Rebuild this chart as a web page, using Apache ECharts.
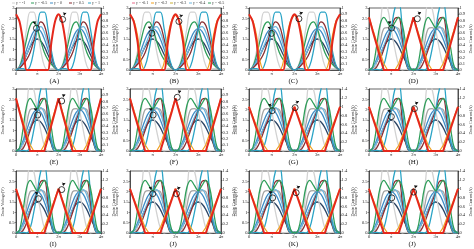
<!DOCTYPE html>
<html><head><meta charset="utf-8">
<script src="https://cdn.jsdelivr.net/npm/echarts@6/dist/echarts.min.js"></script>
<style>html,body{margin:0;padding:0;background:#fff}#c{width:474px;height:249px}</style>
</head><body><div id="c"></div>
<script>
// ---------- data ----------
const xTickLabels = ['0', 'π', '2π', '3π', '4π'];
const thetaDeg = [0, 30, 60, 90, 120, 150, 180, 210, 240, 270, 300, 330, 360];
const panelNames = ['(A)', '(B)', '(C)', '(D)', '(E)', '(F)', '(G)', '(H)', '(I)', '(J)', '(K)', '(J)'];
const legendA = ['γ = -1', 'γ = -0.5', 'γ = 0', 'γ = 0.5', 'γ = 1'];
const legendB = ['γ = -0.1', 'γ = -0.2', 'γ = -0.3', 'γ = -0.4', 'γ = -0.5'];

// continuous class-J voltage family (V), one period
const vJ_m1 = [0, 0.20, 0.93, 2.0, 2.80, 2.80, 2.0, 0.93, 0.20, 0, 0.07, 0.07, 0];
const vJ_m05 = [0, 0.17, 0.72, 1.5, 2.15, 2.33, 2.0, 1.40, 0.85, 0.5, 0.28, 0.10, 0];
const vJ_0 = [0, 0.13, 0.5, 1.0, 1.5, 1.87, 2.0, 1.87, 1.5, 1.0, 0.5, 0.13, 0];
const vJ_025 = [0, 0.12, 0.39, 0.75, 1.18, 1.63, 2.0, 2.10, 1.83, 1.25, 0.61, 0.15, 0];
const vJ_05 = [0, 0.10, 0.28, 0.5, 0.85, 1.40, 2.0, 2.33, 2.15, 1.5, 0.72, 0.17, 0];
const vJ_1 = [0, 0.07, 0.07, 0, 0.20, 0.93, 2.0, 2.80, 2.80, 2.0, 0.93, 0.20, 0];
const vJ_navy = [0, 0.1, 0.38, 0.75, 1.13, 1.4, 1.5, 1.4, 1.13, 0.75, 0.38, 0.1, 0];
// continuous class-F voltage family (V), one period
const vF_m1 = [0.04, 0, 0.43, 2.0, 3.3, 3.0, 1.96, 1.0, 0.24, 0, 0.03, 0, 0.04];
const vF_dh = [0, 0.15, 1.1, 2.2, 2.55, 2.3, 2.05, 2.3, 2.55, 2.2, 1.1, 0.15, 0];
const vF_0 = [0.04, 0, 0.35, 1.3, 2.0, 2.05, 1.96, 2.05, 2.0, 1.3, 0.35, 0, 0.04];
const vF_05 = [0.04, 0, 0.13, 0.5, 1.0, 1.5, 1.96, 2.5, 2.54, 1.5, 0.33, 0, 0.04];
const vF_1 = [0.04, 0, 0.03, 0, 0.24, 1.0, 1.96, 3.0, 3.3, 2.0, 0.43, 0, 0.04];
// drain currents (A), one period
const iB = [0.90, 0.78, 0.45, 0, 0, 0, 0, 0, 0, 0, 0.45, 0.78, 0.90];
const iB2 = [0.88, 0.80, 0.55, 0.12, 0, 0, 0, 0, 0, 0.12, 0.55, 0.80, 0.88];
const iF = [0.85, 0.63, 0.42, 0.2, 0, 0, 0, 0, 0, 0.2, 0.42, 0.63, 0.85];
const iF2 = [0.85, 0.66, 0.47, 0.28, 0.1, 0, 0, 0, 0.1, 0.28, 0.47, 0.66, 0.85];
const iG = [1.0, 0.75, 0.5, 0.25, 0, 0, 0, 0, 0, 0.25, 0.5, 0.75, 1.0];
const iG2 = [1.0, 0.78, 0.56, 0.34, 0.12, 0, 0, 0, 0.12, 0.34, 0.56, 0.78, 1.0];
// annotation circles [x(deg), y(V)] : left-pointing, right-pointing
const markLeft = [[173, 2.02], [173, 1.78], [179, 1.77], [183, 2.03], [183, 1.74], [183, 1.74], [183, 1.95], [181, 1.66], [190, 1.66], [180, 1.9], [187, 1.7], [184, 1.7]];
const markRight = [[395, 2.45], [387, 2.35], [395, 2.48], [391, 2.48], [387, 2.42], [374, 2.6], [365, 2.1], [368, 2.05], [387, 2.1], [368, 1.9], [373, 1.95], [361, 1.98]];

// ---------- layout ----------
const colLeft = [10, 130, 249, 369];
const rowTop = [8, 89, 171];
const gw = 91, gh = 62;

const C = {grey: '#d2d2d2', green: '#2f9e5a', blue: '#3f8dc6', dred: '#8a2f33', teal: '#2aa4c6', navy: '#2c4463', lblue: '#6fb8e0', red: '#e5281c', orange: '#f2a11f', mgrey: '#a5a5a5'};

function two(arr) { return arr.concat(arr.slice(1)).map((v, i) => [i * 30, v]); }

const volJ = [[vJ_navy, C.navy], [vJ_m1, C.grey], [vJ_m05, C.green], [vJ_0, C.blue], [vJ_025, C.lblue], [vJ_05, C.dred], [vJ_1, C.teal]];
const volF = [[vF_0, C.mgrey], [vJ_navy, C.navy], [vF_m1, C.grey], [vJ_0, C.blue], [vJ_025, C.lblue], [vF_05, C.dred], [vF_1, C.teal], [vF_dh, C.green]];

const grids = [], xAxes = [], yAxes = [], series = [], graphics = [];
for (let p = 0; p < 12; p++) {
  const r = Math.floor(p / 4), c = p % 4;
  const left = colLeft[c], top = rowTop[r];
  grids.push({left: left, top: top, width: gw, height: gh, show: true, borderColor: '#222', borderWidth: 0.7, backgroundColor: 'transparent'});
  const lab = {fontSize: 4.5, color: '#222', margin: 1.5, fontFamily: 'Liberation Serif'};
  xAxes.push({gridIndex: p, type: 'value', min: 0, max: 720, interval: 180,
    axisLine: {lineStyle: {color: '#222', width: 0.7}}, axisTick: {length: 1.5, lineStyle: {color: '#222', width: 0.5}},
    splitLine: {show: false}, axisLabel: Object.assign({}, lab, {formatter: v => xTickLabels[v / 180]})});
  const big = p >= 6;
  yAxes.push({gridIndex: p, type: 'value', position: 'left', min: 0, max: 3, interval: 0.5,
    name: 'Drain Voltage(V)', nameLocation: 'middle', nameGap: 7, nameRotate: 90,
    nameTextStyle: {fontSize: 4.2, color: '#333', fontFamily: 'Liberation Serif'},
    axisLine: {show: true, lineStyle: {color: '#222', width: 0.7}}, axisTick: {length: 1.5, lineStyle: {width: 0.5}},
    splitLine: {show: false}, axisLabel: lab});
  yAxes.push({gridIndex: p, type: 'value', position: 'right', min: 0, max: big ? 1.4 : 1, interval: big ? 0.2 : 0.1,
    name: 'Drain Current(A)', nameLocation: 'middle', nameGap: 9, nameRotate: 90,
    nameTextStyle: {fontSize: 4.2, color: '#333', fontFamily: 'Liberation Serif'},
    axisLine: {show: true, lineStyle: {color: '#222', width: 0.7}}, axisTick: {length: 1.5, lineStyle: {width: 0.5}},
    splitLine: {show: false}, axisLabel: Object.assign({}, lab, {formatter: v => (Math.round(v * 10) / 10).toString()})});
  const fam = p < 3 ? volJ : volF;
  fam.forEach(([arr, col]) => series.push({type: 'line', xAxisIndex: p, yAxisIndex: 2 * p, data: two(arr), smooth: 0.4,
    showSymbol: false, lineStyle: {color: col, width: 1.3}, silent: true, animation: false}));
  let cur, cur2;
  if (p < 3) { cur = iB; cur2 = iB2; } else if (p < 6) { cur = iF; cur2 = iF2; } else { cur = iG; cur2 = iG2; }
  if (p > 0) series.push({type: 'line', xAxisIndex: p, yAxisIndex: 2 * p + 1, data: two(cur2), smooth: p < 3 ? 0.3 : false,
    showSymbol: false, lineStyle: {color: C.orange, width: 1.2}, animation: false});
  series.push({type: 'line', xAxisIndex: p, yAxisIndex: 2 * p + 1, data: two(cur), smooth: p < 3 ? 0.3 : false,
    showSymbol: false, lineStyle: {color: C.red, width: 2}, animation: false});
  // annotations
  series.push({type: 'scatter', xAxisIndex: p, yAxisIndex: 2 * p, data: [markLeft[p], markRight[p]], symbol: 'circle', symbolSize: 6,
    itemStyle: {color: 'rgba(0,0,0,0)', borderColor: '#111', borderWidth: 1}, animation: false, z: 5});
  const L = markLeft[p], R = markRight[p];
  series.push({type: 'lines', coordinateSystem: 'cartesian2d', xAxisIndex: p, yAxisIndex: 2 * p, symbol: ['none', 'arrow'], symbolSize: 3,
    lineStyle: {color: '#111', width: 0.9, opacity: 1},
    data: [{coords: [[L[0] - 5, L[1] + 0.25], [L[0] - 30, L[1] + 0.3]]}, {coords: [[R[0] + 5, R[1] + 0.25], [R[0] + 30, R[1] + 0.3]]}], animation: false, z: 5});
  graphics.push({type: 'text', left: left + gw / 2 - 6, top: top + gh + 8, style: {text: panelNames[p], font: '7px "Liberation Serif"', fill: '#111'}});
}
// legends on top of A and B
function topLegend(labels, x0, colors) {
  labels.forEach((t, i) => {
    graphics.push({type: 'line', shape: {x1: x0 + i * 19, y1: 3, x2: x0 + i * 19 + 3, y2: 3}, style: {stroke: colors[i], lineWidth: 1}});
    graphics.push({type: 'text', left: x0 + i * 19 + 4, top: 0.5, style: {text: t, font: '4px "Liberation Serif"', fill: '#333'}});
  });
}
topLegend(legendA, 12, [C.grey, C.green, C.blue, C.dred, C.teal]);
topLegend(legendB, 132, ['#e86a8a', C.orange, '#c9b037', C.lblue, C.green]);

const chart = echarts.init(document.getElementById('c'), null, {renderer: 'canvas'});
chart.setOption({animation: false, grid: grids, xAxis: xAxes, yAxis: yAxes, series: series, graphic: graphics});
</script></body></html>
